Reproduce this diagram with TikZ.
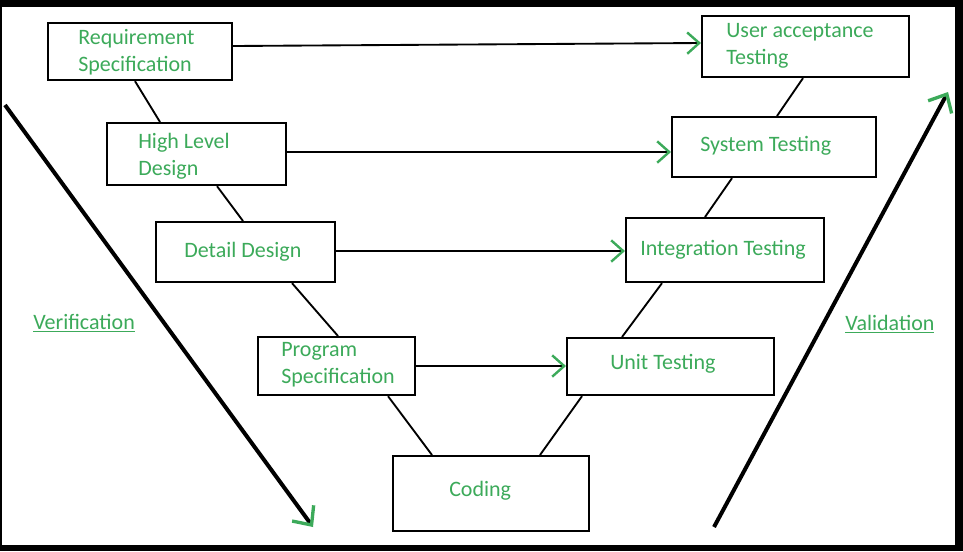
\documentclass[tikz,border=0pt]{standalone}
\usepackage{fontspec}
\setmainfont{Carlito}
\usetikzlibrary{arrows.meta,calc}
\definecolor{gr}{RGB}{60,170,90}
\begin{document}
\begin{tikzpicture}[x=0.75pt,y=-0.75pt,
 box/.style={draw=black,line width=1.6pt,inner sep=0},
 lbl/.style={text=gr,font=\fontsize{16.5}{20}\selectfont,align=left,anchor=west,inner sep=0},
 con/.style={line width=1.4pt},
 arr/.style={line width=1.4pt,-{Straight Barb[color=gr,length=9pt,width=16pt,line width=1.8pt]}},
 big/.style={line width=3pt,-{Straight Barb[color=gr,length=11pt,width=20pt,line width=2.5pt]}}]
\useasboundingbox (0,0) rectangle (963,551);
\fill[black] (0,0) rectangle (963,551);
\fill[white] (2,7) rectangle (955,545);
\node[box,minimum width=184*0.75pt,minimum height=57*0.75pt,anchor=north west] (req) at (47,22) {};
\node[box,minimum width=207*0.75pt,minimum height=61*0.75pt,anchor=north west] (uat) at (701,15) {};
\node[box,minimum width=179*0.75pt,minimum height=62*0.75pt,anchor=north west] (hld) at (106,122) {};
\node[box,minimum width=204*0.75pt,minimum height=60*0.75pt,anchor=north west] (sys) at (671,116) {};
\node[box,minimum width=179*0.75pt,minimum height=60*0.75pt,anchor=north west] (dd) at (155,221) {};
\node[box,minimum width=198*0.75pt,minimum height=64*0.75pt,anchor=north west] (int) at (625,217) {};
\node[box,minimum width=157*0.75pt,minimum height=58*0.75pt,anchor=north west] (ps) at (257,336) {};
\node[box,minimum width=207*0.75pt,minimum height=57*0.75pt,anchor=north west] (ut) at (566,337) {};
\node[box,minimum width=196*0.75pt,minimum height=75*0.75pt,anchor=north west] (cod) at (392,455) {};
\node[lbl] (t1) at (78,52) {Requirement\\Specification};
\node[lbl] (t2) at (726,46) {User acceptance\\Testing};
\node[lbl] (t3) at (138,156) {High Level\\Design};
\node[lbl] (t4) at (700,146) {System Testing};
\node[lbl] (t5) at (184,252) {Detail Design};
\node[lbl] (t6) at (640,250) {Integration Testing};
\node[lbl] (t7) at (281,365) {Program\\Specification};
\node[lbl] (t8) at (610,364) {Unit Testing};
\node[lbl] (t9) at (449,491) {Coding};
\node[lbl] (v1) at (33,323) {\underline{Verification}};
\node[lbl] (v2) at (845,324) {\underline{Validation}};
\draw[con] ($(req.south west)+(88,0)$) -- ($(hld.north west)+(54,0)$);
\draw[con] ($(hld.south west)+(111,0)$) -- ($(dd.north west)+(88,0)$);
\draw[con] ($(dd.south west)+(137,0)$) -- ($(ps.north west)+(81,0)$);
\draw[con] ($(ps.south west)+(131,0)$) -- ($(cod.north west)+(40,0)$);
\draw[con] ($(cod.north west)+(148,0)$) -- ($(ut.south west)+(16,0)$);
\draw[con] ($(ut.north west)+(56,0)$) -- ($(int.south west)+(37,0)$);
\draw[con] ($(int.north west)+(80,0)$) -- ($(sys.south west)+(61,0)$);
\draw[con] ($(sys.north west)+(106,0)$) -- ($(uat.south west)+(102,0)$);
\draw[arr] ($(req.north east)+(0,24)$) -- ($(uat.north west)+(0,28)$);
\draw[arr] ($(hld.north east)+(0,30)$) -- ($(sys.north west)+(0,36)$);
\draw[arr] ($(dd.north east)+(0,30)$) -- ($(int.north west)+(0,34)$);
\draw[arr] ($(ps.north east)+(0,30)$) -- ($(ut.north west)+(0,29)$);
\coordinate (va) at (5,105);
\coordinate (vb) at (313,527);
\coordinate (wa) at (714,527);
\coordinate (wb) at (948,92);
\draw[big] (va) -- (vb);
\draw[big] (wa) -- (wb);
\end{tikzpicture}
\end{document}
